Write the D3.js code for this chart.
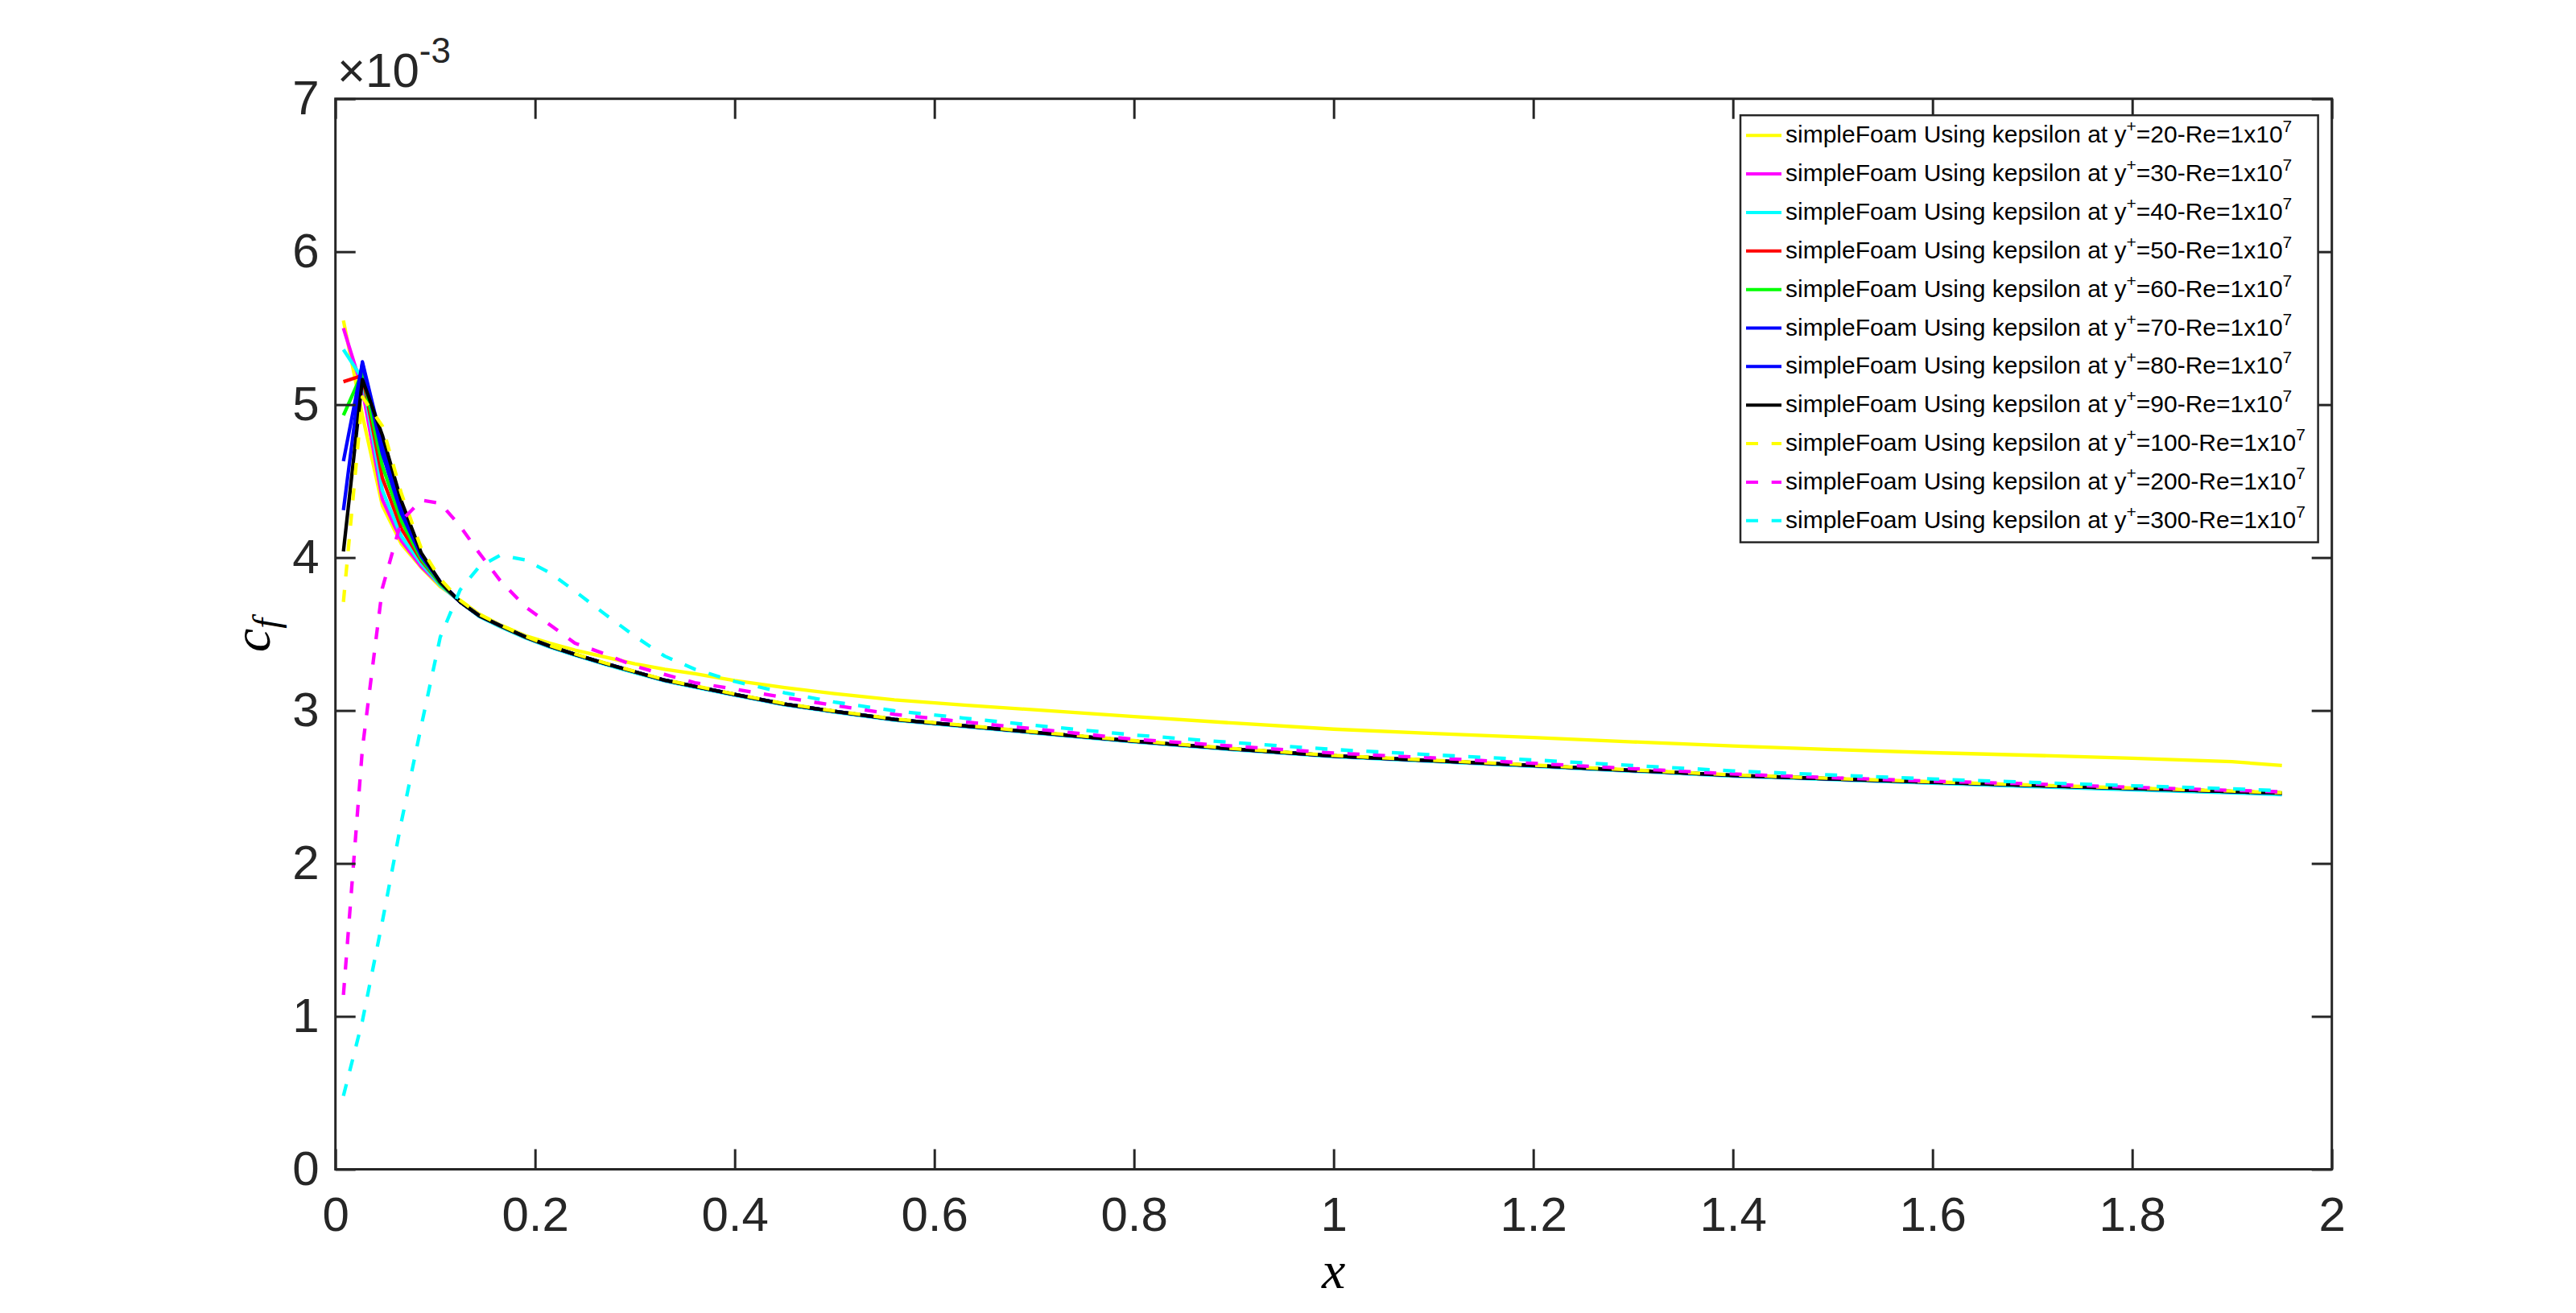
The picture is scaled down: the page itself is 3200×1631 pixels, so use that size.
<!DOCTYPE html>
<html>
<head>
<meta charset="utf-8">
<script src="https://cdn.jsdelivr.net/npm/d3@7"></script>
<style>
  html, body { margin: 0; padding: 0; background: #ffffff; }
  svg { display: block; }
</style>
</head>
<body>
<svg id="chart" width="3200" height="1631"></svg>
<script>
// ---------------- DATA (c_f values in units of 1e-3, as on the axis) ----------------
const xPos = [0.008, 0.027, 0.047, 0.066, 0.086, 0.105, 0.125, 0.144, 0.165, 0.19, 0.215, 0.24, 0.27, 0.3, 0.33, 0.36, 0.4, 0.45, 0.5, 0.56, 0.63, 0.7, 0.8, 0.9, 1.0, 1.1, 1.2, 1.3, 1.4, 1.5, 1.6, 1.7, 1.8, 1.9, 1.95];

const yPlusLabels = ["20", "30", "40", "50", "60", "70", "80", "90", "100", "200", "300"];

const cf20  = [5.55, 4.93, 4.34, 4.09, 3.935, 3.81, 3.72, 3.63, 3.56, 3.49, 3.44, 3.395, 3.35, 3.305, 3.27, 3.24, 3.196, 3.15, 3.11, 3.07, 3.035, 3.005, 2.96, 2.918, 2.878, 2.85, 2.823, 2.795, 2.768, 2.745, 2.724, 2.707, 2.688, 2.665, 2.641];
const cf30  = [5.50, 5.10, 4.38, 4.11, 3.94, 3.82, 3.71, 3.62, 3.552, 3.48, 3.418, 3.365, 3.306, 3.251, 3.197, 3.157, 3.104, 3.041, 2.993, 2.941, 2.899, 2.857, 2.799, 2.747, 2.702, 2.671, 2.639, 2.607, 2.575, 2.552, 2.53, 2.509, 2.489, 2.469, 2.458];
const cf40  = [5.36, 5.17, 4.44, 4.14, 3.96, 3.82, 3.71, 3.615, 3.548, 3.476, 3.414, 3.361, 3.302, 3.247, 3.193, 3.153, 3.10, 3.037, 2.989, 2.937, 2.895, 2.853, 2.795, 2.743, 2.698, 2.667, 2.635, 2.603, 2.571, 2.548, 2.525, 2.503, 2.482, 2.462, 2.45];
const cf50  = [5.15, 5.19, 4.52, 4.19, 3.98, 3.83, 3.71, 3.62, 3.553, 3.48, 3.419, 3.366, 3.307, 3.252, 3.197, 3.157, 3.104, 3.041, 2.993, 2.941, 2.899, 2.857, 2.799, 2.747, 2.702, 2.671, 2.639, 2.607, 2.575, 2.552, 2.53, 2.509, 2.489, 2.469, 2.459];
const cf60  = [4.93, 5.21, 4.60, 4.24, 3.99, 3.83, 3.71, 3.62, 3.554, 3.481, 3.42, 3.366, 3.307, 3.252, 3.198, 3.157, 3.105, 3.042, 2.994, 2.942, 2.90, 2.858, 2.80, 2.748, 2.703, 2.672, 2.64, 2.608, 2.576, 2.553, 2.531, 2.51, 2.49, 2.47, 2.46];
const cf70  = [4.63, 5.27, 4.68, 4.29, 4.01, 3.84, 3.71, 3.62, 3.555, 3.482, 3.42, 3.367, 3.308, 3.253, 3.198, 3.158, 3.105, 3.042, 2.994, 2.942, 2.90, 2.858, 2.80, 2.748, 2.703, 2.672, 2.64, 2.608, 2.576, 2.553, 2.531, 2.51, 2.49, 2.47, 2.46];
const cf80  = [4.31, 5.28, 4.74, 4.33, 4.02, 3.84, 3.71, 3.62, 3.556, 3.482, 3.42, 3.367, 3.308, 3.253, 3.198, 3.158, 3.105, 3.042, 2.994, 2.942, 2.90, 2.858, 2.80, 2.748, 2.703, 2.672, 2.64, 2.608, 2.576, 2.553, 2.531, 2.51, 2.49, 2.47, 2.46];
const cf90  = [4.04, 5.165, 4.80, 4.37, 4.03, 3.84, 3.71, 3.62, 3.555, 3.482, 3.42, 3.367, 3.308, 3.253, 3.198, 3.158, 3.105, 3.042, 2.994, 2.942, 2.90, 2.858, 2.80, 2.748, 2.703, 2.672, 2.64, 2.608, 2.576, 2.553, 2.531, 2.51, 2.49, 2.47, 2.46];
const cf100 = [3.71, 5.05, 4.86, 4.42, 4.06, 3.86, 3.72, 3.63, 3.56, 3.486, 3.424, 3.37, 3.311, 3.256, 3.201, 3.161, 3.108, 3.045, 2.997, 2.945, 2.903, 2.861, 2.803, 2.751, 2.706, 2.675, 2.643, 2.611, 2.579, 2.556, 2.534, 2.513, 2.493, 2.473, 2.463];
const cf200 = [1.14, 2.75, 3.80, 4.24, 4.375, 4.355, 4.205, 4.03, 3.85, 3.68, 3.56, 3.44, 3.37, 3.29, 3.235, 3.182, 3.14, 3.084, 3.034, 2.975, 2.926, 2.88, 2.812, 2.767, 2.722, 2.69, 2.655, 2.62, 2.585, 2.56, 2.538, 2.52, 2.498, 2.478, 2.468];
const cf300 = [0.48, 0.97, 1.62, 2.27, 2.90, 3.48, 3.79, 3.94, 4.015, 3.985, 3.90, 3.78, 3.63, 3.485, 3.355, 3.27, 3.19, 3.116, 3.055, 2.998, 2.95, 2.903, 2.84, 2.79, 2.745, 2.71, 2.677, 2.64, 2.605, 2.578, 2.552, 2.53, 2.508, 2.488, 2.475];

const seriesValues = [cf20, cf30, cf40, cf50, cf60, cf70, cf80, cf90, cf100, cf200, cf300];
const seriesColors = ["#ffff00", "#ff00ff", "#00ffff", "#ff0000", "#00ff00", "#0000ff", "#0000ff", "#000000", "#ffff00", "#ff00ff", "#00ffff"];
const seriesDashed = [false, false, false, false, false, false, false, false, true, true, true];

const xTicks = [0, 0.2, 0.4, 0.6, 0.8, 1, 1.2, 1.4, 1.6, 1.8, 2];
const xTickLabels = ["0", "0.2", "0.4", "0.6", "0.8", "1", "1.2", "1.4", "1.6", "1.8", "2"];
const yTicks = [0, 1, 2, 3, 4, 5, 6, 7];
const yTickLabels = ["0", "1", "2", "3", "4", "5", "6", "7"];

// ---------------- LAYOUT ----------------
const AX = "#262626";
const SANS = "'Liberation Sans', Arial, Helvetica, sans-serif";
const SERIF = "'Liberation Serif', 'Times New Roman', serif";
const plot = { left: 416.7, right: 2896.7, top: 122.7, bottom: 1452.5 };

const svg = d3.select("#chart");
svg.append("rect").attr("width", 3200).attr("height", 1631).attr("fill", "#ffffff");

const x = d3.scaleLinear().domain([0, 2]).range([plot.left, plot.right]);
const y = d3.scaleLinear().domain([0, 7]).range([plot.bottom, plot.top]);

// ---------------- SERIES ----------------
const line = d3.line()
  .x((d, i) => x(xPos[i]))
  .y(d => y(d));

const gLines = svg.append("g");
seriesValues.forEach((vals, k) => {
  gLines.append("path")
    .attr("d", line(vals))
    .attr("fill", "none")
    .attr("stroke", seriesColors[k])
    .attr("stroke-width", 4.3)
    .attr("stroke-linejoin", "round")
    .attr("stroke-dasharray", seriesDashed[k] ? "15 16.7" : null);
});

// ---------------- AXES ----------------
function styleAxis(g) {
  g.attr("font-family", SANS).attr("font-size", 60);
  g.select(".domain").remove();
  g.selectAll(".tick line").attr("stroke", AX).attr("stroke-width", 3);
  g.selectAll(".tick text").attr("fill", AX);
}

svg.append("g")
  .attr("transform", `translate(0,${plot.bottom})`)
  .call(d3.axisBottom(x).tickValues(xTicks).tickSize(-25).tickPadding(34)
        .tickFormat((d, i) => xTickLabels[i]))
  .call(styleAxis);

svg.append("g")
  .attr("transform", `translate(0,${plot.top})`)
  .call(d3.axisTop(x).tickValues(xTicks).tickSize(-25).tickFormat(() => ""))
  .call(styleAxis);

svg.append("g")
  .attr("transform", `translate(${plot.left},0)`)
  .call(d3.axisLeft(y).tickValues(yTicks).tickSize(-25).tickPadding(20)
        .tickFormat((d, i) => yTickLabels[i]))
  .call(styleAxis);

svg.append("g")
  .attr("transform", `translate(${plot.right},0)`)
  .call(d3.axisRight(y).tickValues(yTicks).tickSize(-25).tickFormat(() => ""))
  .call(styleAxis);

// box
svg.append("rect")
  .attr("x", plot.left).attr("y", plot.top)
  .attr("width", plot.right - plot.left).attr("height", plot.bottom - plot.top)
  .attr("fill", "none").attr("stroke", AX).attr("stroke-width", 3);

// exponent label
const expo = svg.append("text")
  .attr("x", 419).attr("y", 108)
  .attr("font-family", SANS).attr("font-size", 60).attr("fill", AX);
expo.append("tspan").text("\u00d710");
expo.append("tspan").attr("font-size", 44).attr("dy", -30).text("-3");

// axis labels
svg.append("text")
  .attr("x", x(1)).attr("y", 1600)
  .attr("text-anchor", "middle")
  .attr("font-family", SERIF).attr("font-style", "italic")
  .attr("font-size", 66).attr("fill", "#000")
  .text("x");

const yl = svg.append("text")
  .attr("transform", "translate(335,789) rotate(-90)")
  .attr("text-anchor", "middle")
  .attr("font-family", SERIF).attr("font-style", "italic")
  .attr("font-size", 66).attr("fill", "#000");
yl.append("tspan").text("c");
yl.append("tspan").attr("font-size", 46).attr("dy", 11).text("f");

// ---------------- LEGEND ----------------
const leg = { x: 2162, y: 143.2, w: 717.6, h: 530.4, row0: 168.2, rowH: 47.86 };
const gLeg = svg.append("g");
gLeg.append("rect")
  .attr("x", leg.x).attr("y", leg.y).attr("width", leg.w).attr("height", leg.h)
  .attr("fill", "#ffffff").attr("stroke", AX).attr("stroke-width", 2.5);

yPlusLabels.forEach((lab, k) => {
  const ry = leg.row0 + k * leg.rowH;
  gLeg.append("line")
    .attr("x1", 2169).attr("x2", 2213).attr("y1", ry).attr("y2", ry)
    .attr("stroke", seriesColors[k]).attr("stroke-width", 4)
    .attr("stroke-dasharray", seriesDashed[k] ? "15 16.7" : null);
  const t = gLeg.append("text")
    .attr("x", 2218).attr("y", ry + 9)
    .attr("font-family", SANS).attr("font-size", 30).attr("fill", "#000");
  t.append("tspan").text("simpleFoam Using kepsilon at y");
  t.append("tspan").attr("font-size", 21).attr("dy", -13).text("+");
  t.append("tspan").attr("dy", 13).text("=" + lab + "-Re=1x10");
  t.append("tspan").attr("font-size", 21).attr("dy", -13).text("7");
});
</script>
</body>
</html>
